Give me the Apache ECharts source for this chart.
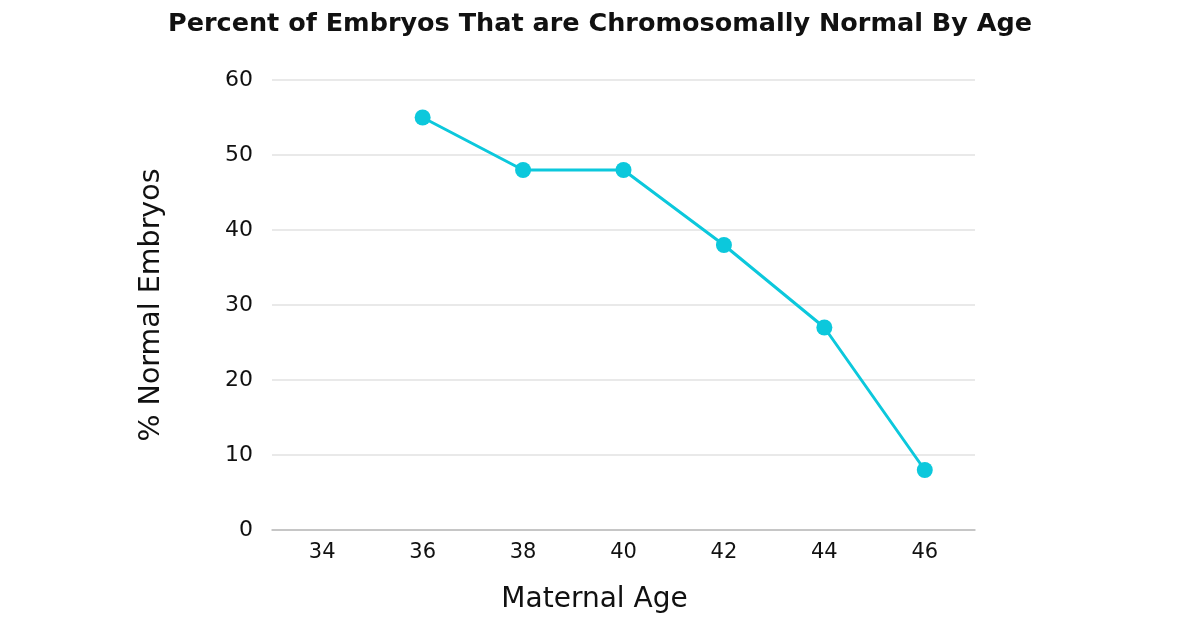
<!DOCTYPE html>
<html style="height: 100%">
<head>
  <meta charset="utf-8">
  <title>Percent of Embryos</title>
  <script src="https://cdn.jsdelivr.net/npm/echarts@6/dist/echarts.min.js"></script>
</head>
<body style="height: 100%; margin: 0; background: #fff">
  <div id="container" style="width: 1200px; height: 628px"></div>
  <script type="text/javascript">
    const ages = ['34', '36', '38', '40', '42', '44', '46'];
    const normalPct = [null, 55, 48, 48, 38, 27, 8];
    const yTicks = { min: 0, max: 60, interval: 10 };

    const font = '"DejaVu Sans", sans-serif';
    const chart = echarts.init(document.getElementById('container'));

    chart.setOption({
      animation: false,
      title: {
        text: 'Percent of Embryos That are Chromosomally Normal By Age',
        left: 'center',
        top: 6,
        textStyle: { fontFamily: font, fontSize: 25.5, fontWeight: 'bold', color: '#111' }
      },
      grid: { left: 272, right: 225, top: 80, bottom: 98 },
      xAxis: {
        type: 'category',
        data: ages,
        name: 'Maternal Age',
        nameLocation: 'middle',
        nameGap: 56,
        // label sits a bit left of the plot centre in the original
        nameTextStyle: { fontFamily: font, fontSize: 28, color: '#111', padding: [0, 58, 0, 0] },
        axisLine: { lineStyle: { color: '#bbb', width: 1.5 } },
        axisTick: { show: false },
        axisLabel: { fontFamily: font, fontSize: 21, color: '#111', margin: 12 }
      },
      yAxis: {
        type: 'value',
        min: yTicks.min,
        max: yTicks.max,
        interval: yTicks.interval,
        name: '% Normal Embryos',
        nameLocation: 'middle',
        nameGap: 106,
        nameTextStyle: { fontFamily: font, fontSize: 28.5, color: '#111' },
        axisLine: { show: false },
        axisTick: { show: false },
        axisLabel: { fontFamily: font, fontSize: 22, color: '#111', margin: 19 },
        splitLine: { lineStyle: { color: '#e2e2e2', width: 1.5 } }
      },
      series: [{
        type: 'line',
        data: normalPct,
        connectNulls: false,
        symbol: 'circle',
        symbolSize: 16,
        lineStyle: { color: '#0cc8dc', width: 3 },
        itemStyle: { color: '#0cc8dc' }
      }]
    });
  </script>
</body>
</html>
